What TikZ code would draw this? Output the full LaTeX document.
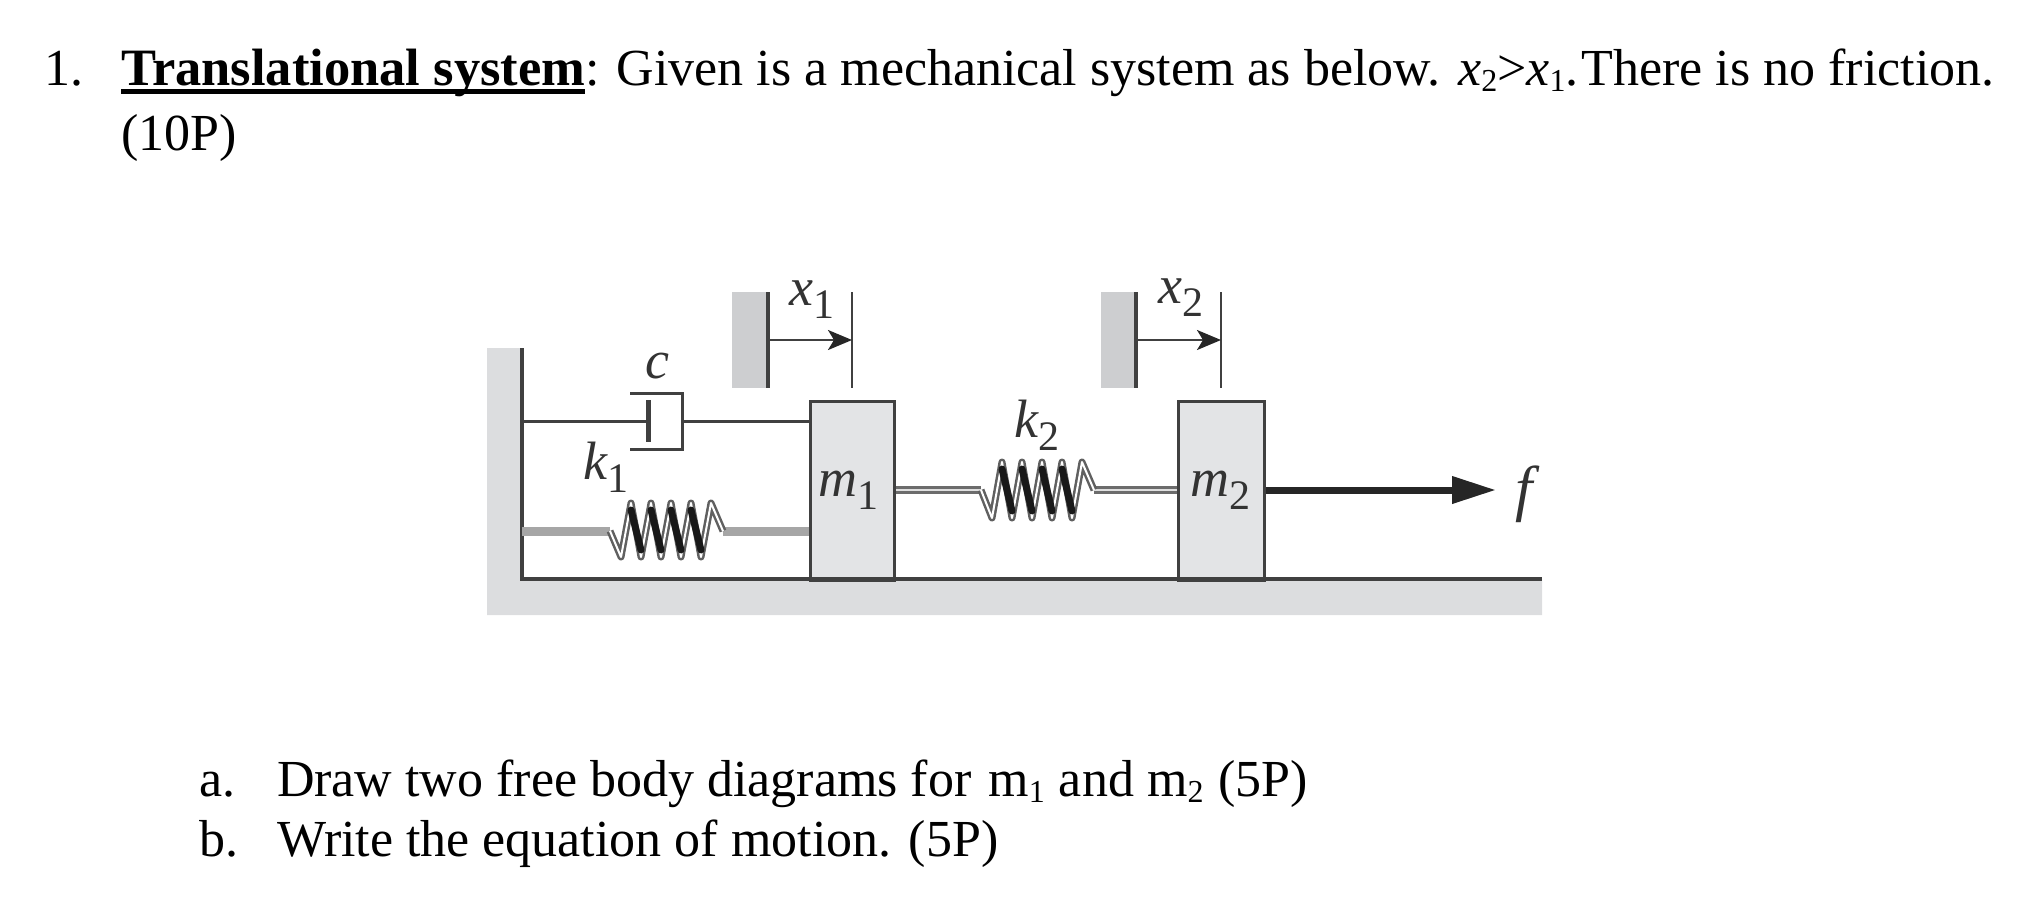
\documentclass[tikz,border=0pt]{standalone}
\usepackage{fontspec}
\setmainfont{Liberation Serif}
\usetikzlibrary{arrows.meta}
\definecolor{wallgray}{HTML}{DCDDDF}
\definecolor{blockgray}{HTML}{CDCED0}
\definecolor{massgray}{HTML}{E3E4E6}
\definecolor{ink}{HTML}{404040}
\definecolor{labink}{HTML}{333333}
\newcommand{\sizeT}{\fontsize{52}{60}\selectfont}
\newcommand{\sizeF}{\fontsize{54}{60}\selectfont}
\newcommand{\subT}[1]{\raisebox{-0.13em}{\fontsize{32}{36}\selectfont #1}}
\newcommand{\figlab}[2]{{\itshape #1}\raisebox{-0.24em}{\fontsize{42}{44}\selectfont #2}}
% \coil{x0}{x-pitch}{ymid}{ytop}{ybot}
\newcommand{\coil}[5]{%
  \draw[springout] (#1,#3)
    \foreach \i in {0,...,4} { -- ({#1+11+\i*#2},#5) -- ({#1+21+\i*#2},#4) } -- ({#1+21+4*#2+12},#3);
  \draw[springin] (#1,#3)
    \foreach \i in {0,...,4} { -- ({#1+11+\i*#2},#5) -- ({#1+21+\i*#2},#4) } -- ({#1+21+4*#2+12},#3);
  \foreach \i in {0,...,3} { \draw[springback] ({#1+21+\i*#2},#4+7) -- ({#1+11+(\i+1)*#2},#5-7); }
}
\tikzset{
  txt/.style={anchor=base west,inner sep=0pt,outer sep=0pt,font=\sizeT,text=black},
  figtxt/.style={anchor=center,inner sep=0pt,outer sep=0pt,font=\sizeF,text=labink},
  mass/.style={draw=ink,line width=3pt,fill=massgray,inner sep=0pt,minimum width=84pt,minimum height=179pt},
  ln/.style={draw=ink,line width=3pt},
  thinln/.style={draw=ink,line width=2.4pt},
  rodout/.style={draw=gray!85!black,line width=8pt},
  rodin/.style={draw=white!75!gray,line width=2.2pt},
  springout/.style={draw=gray!75!black,line width=7pt,line join=round},
  springin/.style={draw=white,line width=2pt,line join=round},
  springback/.style={draw=black!90,line width=7pt,line cap=round},
  disp/.style={draw=ink,line width=2.4pt,-{Stealth[length=24pt,width=20pt,inset=6pt,color=black!85,fill=black!85]}},
  force/.style={draw=black!85,line width=7pt,-{Stealth[length=44pt,width=26pt,inset=0pt]}},
  x=1pt,y=-1pt
}
\begin{document}
\begin{tikzpicture}
\useasboundingbox (0,0) rectangle (2018,898);
% texts
\node[txt] (n1) at (44,85) {1.};
\node[txt,font=\fontsize{52.5}{60}\selectfont] (ts) at (121,85) {\textbf{Translational system}};
\node[txt] (rest) at (585,85) {: Given is a mechanical system as below. {\itshape x}\subT{2}>{\itshape x}\subT{1}.\hspace{3pt}There is no friction.};
\node[txt] (tenp) at (121,150) {(10P)};
\node[txt] (la) at (199,796) {a.};
\node[txt] (ta) at (277,796) {Draw two free body diagrams for\hspace{4pt} m\subT{1}\hspace{1pt} and m\subT{2}\hspace{2pt} (5P)};
\node[txt] (lb) at (199,856) {b.};
\node[txt] (tb) at (277,856) {Write the equation of motion. (5P)};
\draw[draw=black,line width=5pt] ([yshift=-6.5pt]ts.base west) -- ([yshift=-6.5pt]ts.base east);
% ground and wall
\fill[wallgray] (487,348) -- (522,348) -- (522,579) -- (1542,579) -- (1542,615) -- (487,615) -- cycle;
\coordinate (wtop) at (522,348);
\coordinate (wcorner) at (522,579);
\coordinate (fend) at (1542,579);
\draw[ln,line width=3.2pt] (wtop) -- (wcorner) -- (fend);
% masses
\node[mass,anchor=north west] (m1) at (809,400) {};
\node[mass,anchor=north west,minimum width=86pt] (m2) at (1177,400) {};
\node[figtxt] (lm1) at (848,490) {\figlab{m}{1}};
\node[figtxt] (lm2) at (1220,490) {\figlab{m}{2}};
\draw[ln,line width=3.2pt] (wcorner) -- (fend);
% damper
\coordinate (dw) at (522,421);
\coordinate (dp) at (648,421);
\coordinate (dc) at (682,421);
\coordinate (dm) at (m1.west |- dc);
\draw[ln] (dw) -- (dp);
\draw[ln,line width=5pt] (648,400) -- (648,442);
\draw[ln] (630,393) -- (682,393) -- (682,449) -- (630,449);
\draw[ln] (dc) -- (dm);
\node[figtxt] (lc) at (657,366) {{\itshape c}};
% spring 1
\coordinate (s1a) at (522,531);
\coordinate (s1b) at (610,531);
\coordinate (s1c) at (723,531);
\coordinate (s1d) at (m1.west |- s1c);
\draw[rodout,draw=gray!70!white,line width=9pt] (s1a) -- (s1b) (s1c) -- (s1d);
\coil{610}{20}{531}{503}{557}
\node[figtxt] (lk1) at (606,467) {\figlab{k}{1}};
% spring 2
\coordinate (s2a) at (m1.east |- 0,490);
\coordinate (s2b) at (981,490);
\coordinate (s2c) at (1094,490);
\coordinate (s2d) at (m2.west |- s2c);
\draw[rodout] (s2a) -- (s2b) (s2c) -- (s2d);
\draw[rodin] (s2a) -- (s2b) (s2c) -- (s2d);
\coil{981}{20}{490}{462}{518}
\node[figtxt] (lk2) at (1037,425) {\figlab{k}{2}};
% displacement 1
\fill[blockgray] (732,292) rectangle (768,388);
\coordinate (b1t) at (768,292);
\coordinate (b1b) at (768,388);
\coordinate (t1t) at (852,292);
\coordinate (t1b) at (852,388);
\coordinate (a1s) at (768,340);
\coordinate (a1e) at (852,340);
\draw[ln,line width=3.5pt] (b1t) -- (b1b);
\draw[thinln] (t1t) -- (t1b);
\draw[disp] (a1s) -- (a1e);
\node[figtxt] (lx1) at (812,300) {\figlab{x}{1}};
% displacement 2
\fill[blockgray] (1101,292) rectangle (1136,388);
\coordinate (b2t) at (1136,292);
\coordinate (b2b) at (1136,388);
\coordinate (t2t) at (1221,292);
\coordinate (t2b) at (1221,388);
\coordinate (a2s) at (1136,340);
\coordinate (a2e) at (1221,340);
\draw[ln,line width=3.5pt] (b2t) -- (b2b);
\draw[thinln] (t2t) -- (t2b);
\draw[disp] (a2s) -- (a2e);
\node[figtxt] (lx2) at (1181,298) {\figlab{x}{2}};
% force
\coordinate (fe) at (1496,490);
\draw[force] (m2.east |- fe) -- (fe);
\node[figtxt,font=\fontsize{62}{66}\selectfont] (lf) at (1524,494) {{\itshape f}};
\end{tikzpicture}
\end{document}
